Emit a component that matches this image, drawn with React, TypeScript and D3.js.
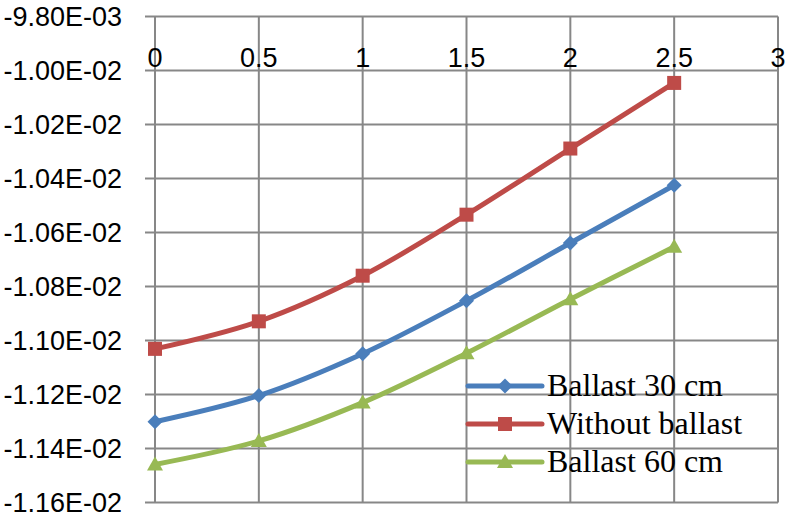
import React from "react";
import * as d3 from "d3";

const xValues = [0, 0.5, 1, 1.5, 2, 2.5];
const ballast30 = [-0.011301, -0.011204, -0.011049, -0.010853, -0.010639, -0.010425];
const withoutBallast = [-0.011031, -0.010929, -0.01076, -0.010534, -0.010289, -0.010046];
const ballast60 = [-0.011459, -0.011372, -0.01123, -0.011047, -0.010847, -0.010653];
const xTicks = [0, 0.5, 1, 1.5, 2, 2.5, 3];
const yTicks = [-0.0098, -0.01, -0.0102, -0.0104, -0.0106, -0.0108, -0.011, -0.0112, -0.0114, -0.0116];
const seriesNames = ["Ballast 30 cm", "Without ballast", "Ballast 60 cm"];
const seriesColors = ["#4A7EBB", "#BE4B48", "#98B954"];

const W = 785;
const H = 522;

function fmtY(v: number): string {
  const s = Math.abs(v).toExponential(2).toUpperCase();
  const [m, e] = s.split("E");
  const en = parseInt(e, 10);
  const es = (en < 0 ? "-" : "+") + String(Math.abs(en)).padStart(2, "0");
  return (v < 0 ? "-" : "") + m + "E" + es;
}

function Marker({ kind, x, y, color }: { kind: number; x: number; y: number; color: string }) {
  if (kind === 0) {
    const r = 7.5;
    return <path d={`M${x},${y - r}L${x + r},${y}L${x},${y + r}L${x - r},${y}Z`} fill={color} />;
  }
  if (kind === 1) {
    const s = 14;
    return <rect x={x - s / 2} y={y - s / 2} width={s} height={s} fill={color} />;
  }
  const r = 8;
  return <path d={`M${x},${y - r}L${x + r},${y + r * 0.75}L${x - r},${y + r * 0.75}Z`} fill={color} />;
}

export default function App() {
  const x = d3.scaleLinear().domain([0, 3]).range([155, 778]);
  const y = d3.scaleLinear().domain([-0.0116, -0.0098]).range([502.5, 16.5]);
  const series = [ballast30, withoutBallast, ballast60];
  const line = d3
    .line<number>()
    .x((_, i) => x(xValues[i]))
    .y((d) => y(d))
    .curve(d3.curveCatmullRom.alpha(0.5));
  const grid = "#878787";
  const legendX = 468;
  const legendRows = [386, 424, 462];
  const axisFont = "'Liberation Sans', Arial, sans-serif";

  return (
    <svg
      width={W}
      height={H}
      viewBox={`0 0 ${W} ${H}`}
      style={{ position: "absolute", left: 0, top: 0, background: "#fff" }}
    >
      <rect x={0} y={0} width={W} height={H} fill="#fff" />
      {yTicks.map((t) => (
        <line key={"h" + t} x1={145} x2={x(3)} y1={y(t)} y2={y(t)} stroke={grid} strokeWidth={2} />
      ))}
      {xTicks.map((t) => (
        <line key={"v" + t} x1={x(t)} x2={x(t)} y1={y(-0.0098)} y2={y(-0.0116)} stroke={grid} strokeWidth={2} />
      ))}
      {yTicks.map((t) => (
        <text
          key={"yl" + t}
          x={122}
          y={y(t) + 9.5}
          textAnchor="end"
          fontFamily={axisFont}
          fontSize={27}
          fill="#000"
        >
          {fmtY(t)}
        </text>
      ))}
      {xTicks.map((t) => (
        <text
          key={"xl" + t}
          x={x(t)}
          y={67}
          textAnchor="middle"
          fontFamily={axisFont}
          fontSize={27}
          fill="#000"
        >
          {String(t)}
        </text>
      ))}
      {series.map((s, k) => (
        <g key={"s" + k}>
          <path d={line(s) || ""} fill="none" stroke={seriesColors[k]} strokeWidth={5} strokeLinejoin="round" />
          {s.map((v, i) => (
            <Marker key={i} kind={k} x={x(xValues[i])} y={y(v)} color={seriesColors[k]} />
          ))}
        </g>
      ))}
      {seriesNames.map((n, k) => (
        <g key={"lg" + k}>
          <line
            x1={legendX}
            x2={legendX + 74}
            y1={legendRows[k]}
            y2={legendRows[k]}
            stroke={seriesColors[k]}
            strokeWidth={5}
            strokeLinecap="round"
          />
          <Marker kind={k} x={legendX + 37} y={legendRows[k]} color={seriesColors[k]} />
          <text
            x={547}
            y={legendRows[k] + 10}
            fontFamily="'Liberation Serif', 'Times New Roman', serif"
            fontSize={32}
            fill="#000"
          >
            {n}
          </text>
        </g>
      ))}
    </svg>
  );
}
